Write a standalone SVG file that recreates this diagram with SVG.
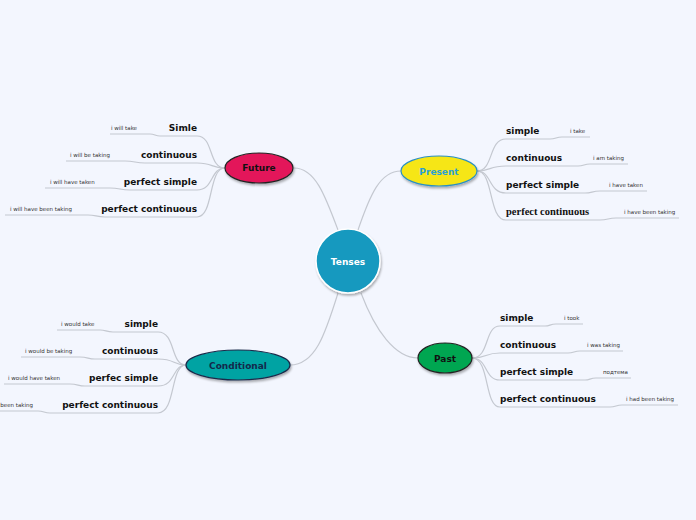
<svg xmlns="http://www.w3.org/2000/svg" width="696" height="520" viewBox="0 0 696 520">
<style>
.c{fill:none;stroke:#c4c8d0;stroke-width:1.2}
.l{font-family:"DejaVu Sans",sans-serif;font-weight:bold;font-size:9px;fill:#111}
.s{font-family:"DejaVu Sans",sans-serif;font-size:5.5px;fill:#333}
.n{font-family:"DejaVu Sans",sans-serif;font-weight:bold;font-size:9px;text-anchor:middle}
.r{text-anchor:end}
</style>
<defs><filter id="sh" x="-20%" y="-20%" width="140%" height="150%"><feDropShadow dx="1" dy="2" stdDeviation="1.2" flood-opacity="0.3"/></filter></defs>
<rect width="696" height="520" fill="#f3f6fe"/>
<g id="connectors">
<path class="c" d="M338,230 C325,195 315,168 294,168"/>
<path class="c" d="M358,230 C370,195 380,171 401,171"/>
<path class="c" d="M338,293 C325,335 315,365 290,365"/>
<path class="c" d="M361,293 C375,330 395,358 418,358"/>
<path class="c" d="M225,168 C208,168 214,136 197,136 L160,136 C155,136 155,134 150,134 L110,134"/>
<path class="c" d="M225,168 C210,168 214,163 197,163 L145,163 C135,163 135,161 125,161 L66,161"/>
<path class="c" d="M225,168 C210,168 214,190 197,190 L130,190 C120,190 120,188 110,188 L45,188"/>
<path class="c" d="M225,168 C208,168 214,217 197,217 L105,217 C96,217 96,215 88,215 L5,215"/>
<path class="c" d="M477,171 C494,171 488,139 506,139 L550,139 C556,139 556,137 562,137 L590,137"/>
<path class="c" d="M477,171 C492,171 488,166 506,166 L578,166 C584,166 584,164 590,164 L628,164"/>
<path class="c" d="M477,171 C492,171 488,193 506,193 L585,193 C592,193 592,191 600,191 L647,191"/>
<path class="c" d="M477,171 C494,171 488,220 506,220 L600,220 C608,220 608,218 616,218 L679,218"/>
<path class="c" d="M472,358 C490,358 484,326 500,326 L545,326 C550,326 550,324 556,324 L583,324"/>
<path class="c" d="M472,358 C488,358 484,353 500,353 L568,353 C574,353 574,351 580,351 L623,351"/>
<path class="c" d="M472,358 C488,358 484,380 500,380 L585,380 C590,380 590,378 596,378 L631,378"/>
<path class="c" d="M472,358 C490,358 484,407 500,407 L610,407 C616,407 616,405 622,405 L678,405"/>
<path class="c" d="M186,365 C170,365 176,332 158,332 L113,332 C106,332 106,330 100,330 L57,330"/>
<path class="c" d="M186,365 C172,365 176,359 158,359 L95,359 C88,359 88,357 80,357 L21,357"/>
<path class="c" d="M186,365 C172,365 176,386 158,386 L85,386 C78,386 78,384 70,384 L4,384"/>
<path class="c" d="M186,365 C170,365 176,413 158,413 L50,413 C44,413 44,411 38,411 L0,411"/>
</g>
<g id="tenses"><circle cx="348" cy="261" r="32" fill="#1499bf" stroke="#fff" stroke-width="1.5" filter="url(#sh)"/><text class="n" x="348" y="265" fill="#fff" font-size="10">Tenses</text></g>
<g id="future"><ellipse cx="259" cy="168" rx="34" ry="15" fill="#e3185a" stroke="#222" stroke-width="1.2" filter="url(#sh)"/><text class="n" x="259" y="171" fill="#111">Future</text></g>
<g id="present"><ellipse cx="439" cy="171" rx="38" ry="15" fill="#f6e614" stroke="#2a8fc0" stroke-width="1.2" filter="url(#sh)"/><text class="n" x="439" y="175" fill="#2a9fd6">Present</text></g>
<g id="conditional"><ellipse cx="238" cy="365" rx="52" ry="15" fill="#00a3a3" stroke="#1a2a4a" stroke-width="1.2" filter="url(#sh)"/><text class="n" x="238" y="369" fill="#13294b">Conditional</text></g>
<g id="past"><ellipse cx="445" cy="358" rx="27" ry="15" fill="#00a651" stroke="#222" stroke-width="1.2" filter="url(#sh)"/><text class="n" x="445" y="362" fill="#111">Past</text></g>
<g id="future-items">
<text class="l r" x="197" y="131">Simle</text><text class="s" x="111" y="130">i will take</text>
<text class="l r" x="197" y="158">continuous</text><text class="s" x="70" y="157">i will be taking</text>
<text class="l r" x="197" y="185">perfect simple</text><text class="s" x="50" y="184">i will have taken</text>
<text class="l r" x="197" y="212">perfect continuous</text><text class="s" x="10" y="211">i will have been taking</text>
</g>
<g id="present-items">
<text class="l" x="506" y="134">simple</text><text class="s" x="570" y="133">i take</text>
<text class="l" x="506" y="161">continuous</text><text class="s" x="593" y="160">i am taking</text>
<text class="l" x="506" y="188">perfect simple</text><text class="s" x="609" y="187">i have taken</text>
<text class="l" x="506" y="215" style="font-family:'Liberation Serif',serif;font-size:10.5px">perfect continuous</text><text class="s" x="624" y="214">i have been taking</text>
</g>
<g id="past-items">
<text class="l" x="500" y="321">simple</text><text class="s" x="564" y="320">i took</text>
<text class="l" x="500" y="348">continuous</text><text class="s" x="587" y="347">i was taking</text>
<text class="l" x="500" y="375">perfect simple</text><text class="s" x="603" y="374">подтема</text>
<text class="l" x="500" y="402">perfect continuous</text><text class="s" x="626" y="401">i had been taking</text>
</g>
<g id="conditional-items">
<text class="l r" x="158" y="327">simple</text><text class="s" x="61" y="326">i would take</text>
<text class="l r" x="158" y="354">continuous</text><text class="s" x="25" y="353">i would be taking</text>
<text class="l r" x="158" y="381">perfec simple</text><text class="s" x="8" y="380">i would have taken</text>
<text class="l r" x="158" y="408">perfect continuous</text><text class="s r" x="33" y="407">i would have been taking</text>
</g>
</svg>
